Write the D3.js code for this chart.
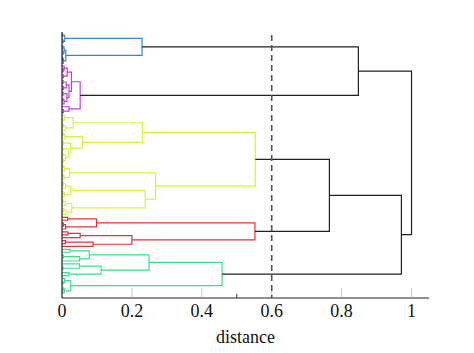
<!DOCTYPE html>
<html>
<head>
<meta charset="utf-8">
<script src="https://cdn.jsdelivr.net/npm/d3@7/dist/d3.min.js"></script>
<style>
  body { margin: 0; background: #fff; }
</style>
</head>
<body>
<div id="chart"></div>
<script>
// each node is [left, right, mergeDistance]; plain integers are leaves (ids in leaf order)
var blueTree = [[[0,1,0.002],[2,3,0.003],0.008],
                [[[4,5,0.002],[6,7,0.003],0.006],[[8,9,0.002],10,0.004],0.011], 0.229];

var magentaTree = [[[[11,[12,13,0.003],0.006],[14,15,0.004],0.015],
                    [[[16,17,0.003],[18,19,0.004],0.012],[[20,21,0.003],[[22,23,0.002],24,0.006],0.014],0.02],0.027],
                   [25,[26,27,0.004],0.02], 0.052];

var yellowTree = [[[[28,[29,30,0.003],0.008],[[31,32,0.004],33,0.01],0.032],
                   [[[34,35,0.003],36,0.008],[[37,38,0.004],[[39,40,0.003],[[41,42,0.002],[43,44,0.004],0.01],0.018],0.025],0.059],0.23],
                  [[[[45,46,0.003],47,0.008],[[48,49,0.002],50,0.006],0.022],
                   [[[[51,52,0.004],53,0.01],[[54,55,0.003],56,0.007],0.025],
                    [[[57,58,0.003],59,0.009],[[60,61,0.004],62,0.012],0.028],0.238],0.268], 0.553];

var redTree = [[[63,64,0.016],[[65,66,0.004],67,0.01],0.099],
               [[[68,69,0.017],70,0.052],[[71,72,0.01],73,0.089],0.2], 0.552];

var greenTree = [[[[74,75,0.023],[[76,77,0.004],78,0.05],0.078],
                  [[79,[80,81,0.003],0.05],[82,83,0.02],0.112],0.249],
                 [[84,[85,86,0.003],0.008],[[87,88,0.003],89,0.006],0.025], 0.458];

var clusterTrees = [blueTree, magentaTree, yellowTree, redTree, greenTree];
var clusterColors = ["#3b80e0", "#c63be6", "#d8f23e", "#e8313a", "#35e48a"];

// merges above the cut: [nodeA, nodeB, distance]; clusters are 0..4, new nodes get 5, 6, ...
var upperLinks = [[0,1,0.848],[2,3,0.765],[6,4,0.971],[5,7,1.0]];

var xTicks = [0, 0.2, 0.4, 0.6, 0.8, 1];
var cutoff = 0.6;
var xLabel = "distance";

var width = 474, height = 353;
var margin = {top: 32, left: 62, right: 45, bottom: 55};
var plotBottom = height - margin.bottom;  // 298
var serif = "'Liberation Serif', 'Times New Roman', Times, 'DejaVu Serif', serif";

var svg = d3.select("#chart").append("svg")
    .attr("width", width)
    .attr("height", height);

var x = d3.scaleLinear().domain([0, 1.05]).range([margin.left, width - margin.right]);

// leaf order from a walk of the trees
var leafOrder = [];
function collect(node){
    if (typeof node === "number") { leafOrder.push(node); return; }
    collect(node[0]); collect(node[1]);
}
clusterTrees.forEach(collect);

var y = d3.scalePoint().domain(leafOrder).range([34, 293]);

function linkPath(a, b, h){
    return "M" + x(a.h) + "," + a.y + "H" + x(h) + "V" + b.y + "H" + x(b.h);
}

function drawNode(node, color){
    if (typeof node === "number") return {y: y(node), h: 0};
    var a = drawNode(node[0], color);
    var b = drawNode(node[1], color);
    svg.append("path")
        .attr("d", linkPath(a, b, node[2]))
        .attr("fill", "none")
        .attr("stroke", color)
        .attr("stroke-width", 1.2);
    return {y: (a.y + b.y) / 2, h: node[2]};
}

var nodes = clusterTrees.map(function(t, i){ return drawNode(t, clusterColors[i]); });

upperLinks.forEach(function(l){
    var a = nodes[l[0]], b = nodes[l[1]];
    svg.append("path")
        .attr("d", linkPath(a, b, l[2]))
        .attr("fill", "none")
        .attr("stroke", "#222")
        .attr("stroke-width", 1.2);
    nodes.push({y: (a.y + b.y) / 2, h: l[2]});
});

// axes
svg.append("line")
    .attr("x1", x(0)).attr("x2", x(0))
    .attr("y1", margin.top).attr("y2", plotBottom)
    .attr("stroke", "#222").attr("stroke-width", 1.2);

svg.append("line")
    .attr("x1", x(0)).attr("x2", x(1.05))
    .attr("y1", plotBottom).attr("y2", plotBottom)
    .attr("stroke", "#222").attr("stroke-width", 1.2);

svg.selectAll(".tick")
    .data(xTicks.filter(function(d){ return d > 0; }))
    .enter().append("line")
        .attr("x1", function(d){ return x(d); })
        .attr("x2", function(d){ return x(d); })
        .attr("y1", plotBottom - 10)
        .attr("y2", plotBottom - 1)
        .attr("stroke", "#c8c8c8")
        .attr("stroke-width", 1);

// small dark tick at 0.5
svg.append("line")
    .attr("x1", x(0.5)).attr("x2", x(0.5))
    .attr("y1", plotBottom - 4).attr("y2", plotBottom)
    .attr("stroke", "#333").attr("stroke-width", 1);

svg.selectAll(".ticklabel")
    .data(xTicks)
    .enter().append("text")
        .attr("x", function(d){ return x(d); })
        .attr("y", 317)
        .attr("text-anchor", "middle")
        .attr("font-family", serif)
        .attr("font-size", "18px")
        .attr("fill", "#111")
        .text(function(d){ return d; });

svg.append("text")
    .attr("x", (x(0) + x(1.05)) / 2)
    .attr("y", 343)
    .attr("text-anchor", "middle")
    .attr("font-family", serif)
    .attr("font-size", "18px")
    .attr("fill", "#111")
    .text(xLabel);

// cut-off line
svg.append("line")
    .attr("x1", x(cutoff)).attr("x2", x(cutoff))
    .attr("y1", 35).attr("y2", plotBottom)
    .attr("stroke", "#555")
    .attr("stroke-width", 1.6)
    .attr("stroke-dasharray", "6,4");
</script>
</body>
</html>
